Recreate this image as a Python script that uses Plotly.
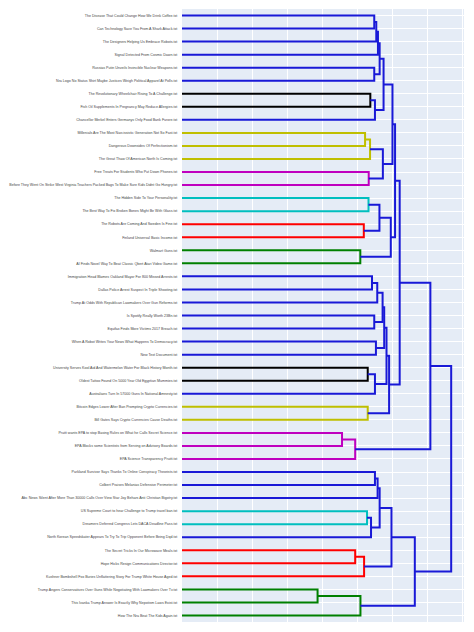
import plotly.graph_objects as go

labels = [
    "The Disease That Could Change How We Drink Coffee.txt",
    "Can Technology Save You From A Shark Attack.txt",
    "The Designers Helping Us Embrace Robots.txt",
    "Signal Detected From Cosmic Dawn.txt",
    "Russias Putin Unveils Invincible Nuclear Weapons.txt",
    "Nra Logo No Status Shirt Maybe Justices Weigh Political Apparel At Polls.txt",
    "The Revolutionary Wheelchair Rising To A Challenge.txt",
    "Fish Oil Supplements In Pregnancy May Reduce Allergies.txt",
    "Chancellor Merkel Enters Germanys Only Food Bank Furore.txt",
    "Millenials Are The Most Narcissistic Generation Not So Fast.txt",
    "Dangerous Downsides Of Perfectionism.txt",
    "The Great Thaw Of American North Is Coming.txt",
    "Free Treats For Students Who Put Down Phones.txt",
    "Before They Went On Strike West Virginia Teachers Packed Bags To Make Sure Kids Didnt Go Hungry.txt",
    "The Hidden Side To Your Personality.txt",
    "The Best Way To Fix Broken Bones Might Be With Glass.txt",
    "The Robots Are Coming And Sweden Is Fine.txt",
    "Finland Universal Basic Income.txt",
    "Walmart Guns.txt",
    "AI Finds Novel Way To Beat Classic Qbert Atari Video Game.txt",
    "Immigration Head Blames Oakland Mayor For 800 Missed Arrests.txt",
    "Dallas Police Arrest Suspect In Triple Shooting.txt",
    "Trump At Odds With Republican Lawmakers Over Gun Reforms.txt",
    "Is Spotify Really Worth 23Bn.txt",
    "Equifax Finds More Victims 2017 Breach.txt",
    "When A Robot Writes Your News What Happens To Democracy.txt",
    "New Text Document.txt",
    "University Serves Kool Aid And Watermelon Water For Black History Month.txt",
    "Oldest Tattoo Found On 5000 Year Old Egyptian Mummies.txt",
    "Australians Turn In 57000 Guns In National Amnesty.txt",
    "Bitcoin Edges Lower After Ban Prompting Crypto Currencies.txt",
    "Bill Gates Says Crypto Currencies Cause Deaths.txt",
    "Pruitt wants EPA to stop Basing Rules on What he Calls Secret Science.txt",
    "EPA Blocks some Scientists from Serving on Advisory Boards.txt",
    "EPA Science Transparency Pruitt.txt",
    "Parkland Survivor Says Thanks To Online Conspiracy Theorists.txt",
    "Colbert Praises Melanias Defensive Perimeter.txt",
    "Abc News Silent After More Than 30000 Calls Over View Star Joy Behars Anti Christian Bigotry.txt",
    "US Supreme Court to hear Challenge to Trump travel ban.txt",
    "Dreamers Deferred Congress Lets DACA Deadline Pass.txt",
    "North Korean Speedskater Appears To Try To Trip Opponent Before Being Dqd.txt",
    "The Secret Tricks In Our Microwave Meals.txt",
    "Hope Hicks Resign Communications Director.txt",
    "Kushner Bombshell Fox Buries Unflattering Story For Trump White House Aged.txt",
    "Trump Angers Conservatives Over Guns While Negotiating With Lawmakers Over Tv.txt",
    "This Ivanka Trump Answer Is Exactly Why Nepotism Laws Exist.txt",
    "How The Nra Beat The Kids Again.txt",
]

# linkage (children: leaf index < 47, cluster id = 47 + merge index)
merge_left = [0, 47, 48, 4, 49, 6, 52, 51, 9, 55, 12, 56, 54, 14, 16, 60, 18, 62, 59,
              20, 66, 23, 67, 25, 69, 27, 72, 71, 30, 74, 65, 32, 78, 77,
              35, 81, 38, 83, 82, 41, 86, 85, 44, 89, 88, 80]
merge_right = [1, 2, 3, 5, 50, 7, 8, 53, 10, 11, 13, 57, 58, 15, 17, 61, 19, 63, 64,
               21, 22, 24, 68, 26, 70, 28, 29, 73, 31, 75, 76, 33, 34, 79,
               36, 37, 39, 40, 84, 42, 43, 87, 45, 46, 90, 91]
merge_heights = [2.744, 2.773, 2.797, 2.744, 2.821, 2.688, 2.754, 2.877, 2.613, 2.684,
                 2.665, 2.867, 3.004, 2.662, 2.595, 2.818, 2.545, 2.980, 3.041,
                 2.712, 2.787, 2.744, 2.863, 2.768, 2.886, 2.651, 2.754, 2.919, 2.651,
                 2.956, 3.107, 2.284, 2.472, 3.545,
                 2.754, 2.792, 2.641, 2.698, 2.821, 2.472, 2.599, 2.990, 1.935, 2.547,
                 3.323, 3.842]
merge_colors = ["b", "b", "b", "b", "b", "k", "b", "b", "y", "y",
                "m", "b", "b", "c", "r", "b", "g", "b", "b",
                "b", "b", "b", "b", "b", "b", "k", "b", "b", "y",
                "b", "b", "m", "m", "b",
                "b", "b", "c", "b", "b", "r", "r", "b", "g", "g",
                "b", "b"]

color_map = {
    "b": "rgb(25,25,215)",
    "k": "rgb(0,0,0)",
    "y": "rgb(191,191,0)",
    "m": "rgb(191,0,191)",
    "c": "rgb(0,191,191)",
    "r": "rgb(255,0,0)",
    "g": "rgb(0,128,0)",
}

n = len(labels)
pos = [5 + 10 * i for i in range(n)]
height = [0.0] * n
for l, r, h in zip(merge_left, merge_right, merge_heights):
    pos.append((pos[l] + pos[r]) / 2)
    height.append(h)

fig = go.Figure()
for l, r, h, c in zip(merge_left, merge_right, merge_heights, merge_colors):
    fig.add_trace(go.Scatter(
        x=[height[l], h, h, height[r]],
        y=[pos[l], pos[l], pos[r], pos[r]],
        mode="lines",
        line=dict(color=color_map[c], width=2),
        hoverinfo="skip",
        showlegend=False,
    ))

fig.update_layout(
    template="plotly",
    width=466,
    height=624,
    margin=dict(l=171, r=10, t=1, b=10),
    showlegend=False,
    plot_bgcolor="#E5ECF6",
    paper_bgcolor="white",
)
fig.update_xaxes(range=[0, 4.025], dtick=0.5, showticklabels=False,
                 zeroline=False, showgrid=True, gridcolor="white")
fig.update_yaxes(range=[470, 0], tickmode="array", tickvals=pos[:n], ticktext=labels,
                 tickfont=dict(size=3.6, color="#444", family="Arial"),
                 ticks="outside", ticklen=3, tickcolor="rgba(0,0,0,0)",
                 zeroline=False, showgrid=True, gridcolor="white")

fig.write_html("out.html")
